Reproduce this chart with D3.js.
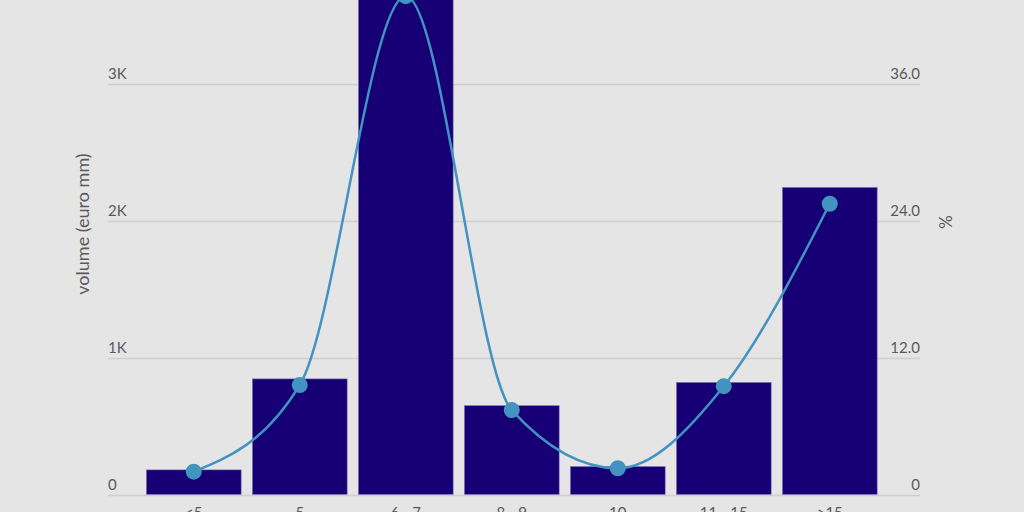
<!DOCTYPE html>
<html lang="en">
<head>
    <meta charset="UTF-8">
    <title>Volume by bucket</title>
    <script src="https://d3js.org/d3.v7.min.js"></script>
    <style>
        body { margin: 0; background: #e5e5e5; }
        text { font-family: Lato, "Open Sans", sans-serif; fill: #5a5a5a; }
    </style>
</head>
<body>
<div id="chart"></div>
<script>
    // data
    let categories = ["<5", "5", "6 - 7", "8 - 9", "10", "11 - 15", ">15"];
    let volumes = [180, 845, 3850, 650, 205, 820, 2245];
    let percents = [2.0, 9.6, 43.7, 7.4, 2.3, 9.5, 25.5];
    let leftTicks = [0, 1000, 2000, 3000];
    let leftTickLabels = ["0", "1K", "2K", "3K"];
    let rightTicks = [0, 12, 24, 36];
    let rightTickLabels = ["0", "12.0", "24.0", "36.0"];

    let width = 1024, height = 512;
    let plot = {left: 108, right: 920, top: 84, bottom: 494.5};

    let svg = d3.select("#chart").append("svg")
        .attr("width", width)
        .attr("height", height);

    svg.append("rect")
        .attr("width", width)
        .attr("height", height)
        .attr("fill", "#e5e5e5");

    let x = d3.scaleBand()
        .domain(categories)
        .range([141, 882.5])
        .paddingInner(0.105)
        .paddingOuter(0.05);

    let yLeft = d3.scaleLinear().domain([0, 3000]).range([plot.bottom, plot.top]);
    let yRight = d3.scaleLinear().domain([0, 36]).range([plot.bottom, plot.top]);

    // grid lines
    svg.append("g")
        .selectAll("line")
        .data(leftTicks)
        .enter()
        .append("line")
        .attr("x1", plot.left)
        .attr("x2", plot.right)
        .attr("y1", d => Math.round(yLeft(d)) + 0.5)
        .attr("y2", d => Math.round(yLeft(d)) + 0.5)
        .attr("stroke", "#cfcfcf")
        .attr("stroke-width", 1.5);

    // left tick labels, sitting above grid lines
    svg.append("g")
        .selectAll("text")
        .data(leftTicks)
        .enter()
        .append("text")
        .attr("x", plot.left)
        .attr("y", d => yLeft(d) - 5)
        .attr("font-size", "15px")
        .text((d, i) => leftTickLabels[i]);

    // right tick labels
    svg.append("g")
        .selectAll("text")
        .data(rightTicks)
        .enter()
        .append("text")
        .attr("x", plot.right)
        .attr("y", d => yRight(d) - 5)
        .attr("text-anchor", "end")
        .attr("font-size", "15px")
        .text((d, i) => rightTickLabels[i]);

    // axis titles
    svg.append("text")
        .attr("transform", "translate(89,224) rotate(-90)")
        .attr("text-anchor", "middle")
        .attr("font-size", "18px")
        .text("volume (euro mm)");

    svg.append("text")
        .attr("transform", "translate(939,222) rotate(90)")
        .attr("text-anchor", "middle")
        .attr("font-size", "17px")
        .text("%");

    // bars
    svg.append("g")
        .selectAll("rect")
        .data(volumes)
        .enter()
        .append("rect")
        .attr("x", (d, i) => x(categories[i]))
        .attr("y", d => yLeft(d))
        .attr("width", x.bandwidth())
        .attr("height", d => yLeft(0) - yLeft(d))
        .attr("fill", "#170075")
        .attr("stroke", "#8a84c0")
        .attr("stroke-width", 0.6);

    // x labels, cut by the bottom edge as in the reference
    svg.append("g")
        .selectAll("text")
        .data(categories)
        .enter()
        .append("text")
        .attr("x", d => x(d) + x.bandwidth() / 2)
        .attr("y", 518)
        .attr("text-anchor", "middle")
        .attr("font-size", "15px")
        .text(d => d);

    // percentage line
    let line = d3.line()
        .x((d, i) => x(categories[i]) + x.bandwidth() / 2)
        .y(d => yRight(d))
        .curve(d3.curveMonotoneX);

    svg.append("path")
        .datum(percents)
        .attr("d", line)
        .attr("fill", "none")
        .attr("stroke", "#4393c0")
        .attr("stroke-width", 2.5);

    svg.append("g")
        .selectAll("circle")
        .data(percents)
        .enter()
        .append("circle")
        .attr("cx", (d, i) => x(categories[i]) + x.bandwidth() / 2)
        .attr("cy", d => yRight(d))
        .attr("r", 8)
        .attr("fill", "#4393c0");
</script>
</body>
</html>
